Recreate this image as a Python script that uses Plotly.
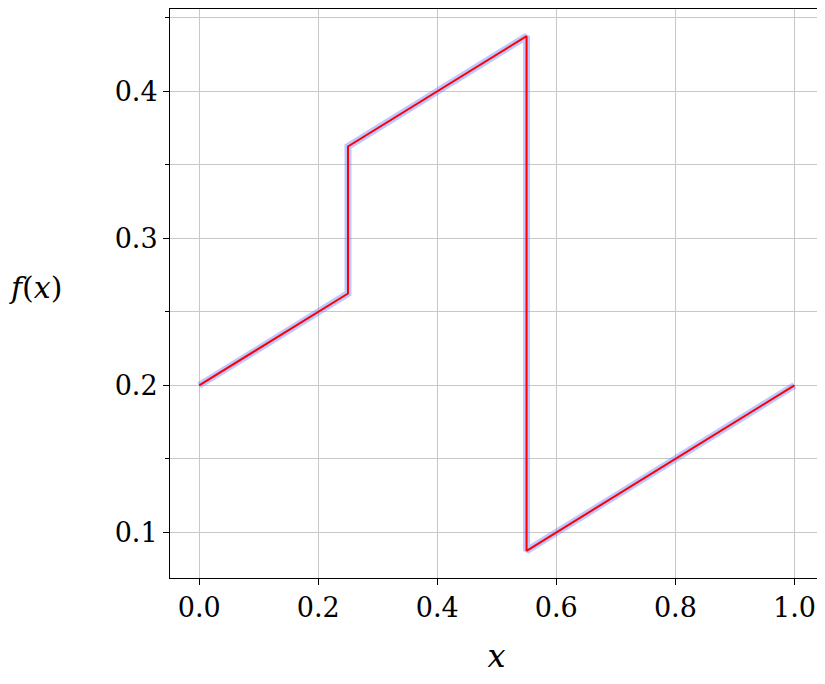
import plotly.graph_objects as go

xs = [0.0, 0.25, 0.25, 0.55, 0.55, 1.0]
ys = [0.2, 0.2625, 0.3625, 0.4375, 0.0875, 0.2]
xticks = [0.0, 0.2, 0.4, 0.6, 0.8, 1.0]
xlabels = ["0.0", "0.2", "0.4", "0.6", "0.8", "1.0"]
yticks = [0.1, 0.2, 0.3, 0.4]
ylabels = ["0.1", "0.2", "0.3", "0.4"]

font = "DejaVu Serif"
fig = go.Figure()
fig.add_trace(go.Scatter(x=xs, y=ys, mode="lines", line=dict(color="rgba(110,130,255,0.45)", width=7), hoverinfo="skip"))
fig.add_trace(go.Scatter(x=xs, y=ys, mode="lines", line=dict(color="#ff0000", width=2)))
fig.update_layout(
    width=825, height=684, showlegend=False,
    plot_bgcolor="white", paper_bgcolor="white",
    margin=dict(l=162, r=10, t=1, b=114),
    font=dict(family=font, size=27, color="black"),
)
fig.update_xaxes(range=[-0.049, 1.048], tickvals=xticks, ticktext=xlabels,
                 showgrid=True, gridcolor="#c8c8c8", gridwidth=1,
                 showline=True, linecolor="black", mirror=True, linewidth=1,
                 ticks="outside", ticklen=6, tickcolor="black", zeroline=False,
                 title=dict(text="<i>x</i>", font=dict(size=32), standoff=22))
fig.update_yaxes(range=[0.069, 0.456], tickvals=yticks, ticktext=ylabels,
                 showgrid=True, gridcolor="#c8c8c8", gridwidth=1,
                 showline=True, linecolor="black", mirror=True, linewidth=1,
                 ticks="outside", ticklen=6, tickcolor="black", zeroline=False,
                 minor=dict(dtick=0.05, tick0=0.05, showgrid=True, gridcolor="#c8c8c8", ticks="outside", ticklen=4, tickcolor="black"))
fig.add_annotation(text="<i>f</i>(<i>x</i>)", xref="paper", yref="paper", x=-0.25, y=0.51,
                   showarrow=False, xanchor="left", font=dict(size=30))
fig.write_html("out.html")
